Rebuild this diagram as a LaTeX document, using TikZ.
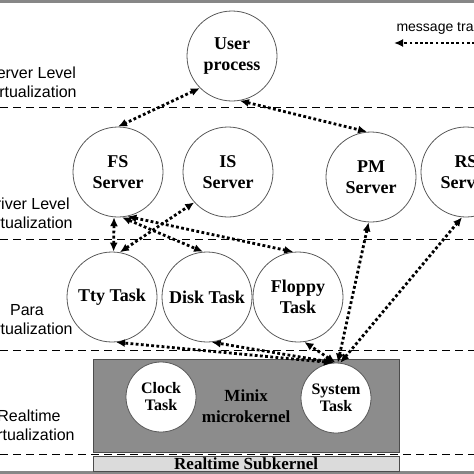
\documentclass[tikz,border=0pt]{standalone}
\usepackage{fontspec}
\setmainfont{Liberation Serif}
\setsansfont{Liberation Sans}
\usetikzlibrary{arrows.meta,positioning}

\begin{document}
\begin{tikzpicture}[x=1pt,y=-1pt,
   proc/.style={circle,draw=black!65,line width=0.8pt,minimum size=90pt,inner sep=0pt,
                align=center,font=\bfseries\fontsize{18}{21}\selectfont},
   ktask/.style={proc,fill=white,minimum size=70pt,font=\bfseries\fontsize{16}{17}\selectfont},
   lvl/.style={align=center,font=\sffamily\fontsize{16}{19}\selectfont},
   msg/.style={line width=2.8pt,dash pattern=on 2.8pt off 2.4pt,
               {Latex[length=9pt,width=8pt]}-{Latex[length=9pt,width=8pt]}},
   sep/.style={line width=0.9pt,dash pattern=on 8pt off 5pt}]
   \clip (0,0) rectangle (474,474);
   % frame bands
   \fill[black!47] (0,0) rectangle (474,2.5);
   \fill[black!47] (0,471) rectangle (474,474);
   % kernel boxes
   \node[draw=black!70,fill=black!45,minimum width=306pt,minimum height=93pt,inner sep=0pt,
         anchor=north west,align=center,font=\bfseries\fontsize{17}{21}\selectfont]
         (kernel) at (93,359) {Minix\\microkernel};
   \node[draw=black!70,fill=black!14,minimum width=306pt,minimum height=15pt,inner sep=0pt,
         anchor=north west,font=\bfseries\fontsize{17}{20}\selectfont]
         (subk) at (93,456) {Realtime Subkernel};
   % level separators
   \foreach \y in {107,239,350,454}
      \draw[sep] (0,\y) -- (474,\y);
   % level labels
   \node[lvl] (lsrv) at (31,82) {Server Level\\Virtualization};
   \node[lvl] (ldrv) at (27,213) {Driver Level\\Virtualization};
   \node[lvl] (lpara) at (27,320) {Para\\Virtualization};
   \node[lvl] (lrt) at (29,425) {Realtime\\Virtualization};
   % legend
   \node[anchor=west,font=\sffamily\fontsize{14}{16}\selectfont] (legtxt) at (393,28) {message transfer};
   \coordinate (legtip) at (394,43);
   \coordinate (legend) at (480,43);
   \draw[line width=2.8pt,dash pattern=on 2.8pt off 2.4pt,-{Latex[length=9pt,width=8pt]}] (legend) -- (legtip);
   % processes
   \node[proc] (user) at (232,56) {User\\process};
   \node[proc] (fs) at (118,172) {FS\\Server};
   \node[proc] (is) at (228,172) {IS\\Server};
   \node[proc] (pm) at (371,177) {PM\\Server};
   \node[proc] (rs) at (466,172) {RS\\Server};
   \node[proc] (tty) at (112,297) {Tty Task};
   \node[proc] (disk) at (207,297) {Disk Task};
   \node[proc] (floppy) at (298,297) {Floppy\\Task};
   \node[ktask] (clock) at (161,397) {Clock\\Task};
   \node[ktask] (sys) at (336,398) {System\\Task};
   % messages
   \path[msg]
   (user.225) edge (fs.north)
   (user.280) edge (pm.95)
   (fs.265) edge (tty.88)
   (fs.275) edge (disk.95)
   (fs.282) edge (floppy.96)
   (tty.80) edge (is.222)
   (sys.95) edge (tty.275)
   (sys.93) edge (disk.276)
   (sys.91) edge (floppy.278)
   (sys.87) edge (pm.267)
   (sys.83) edge (rs.265);
\end{tikzpicture}
\end{document}
